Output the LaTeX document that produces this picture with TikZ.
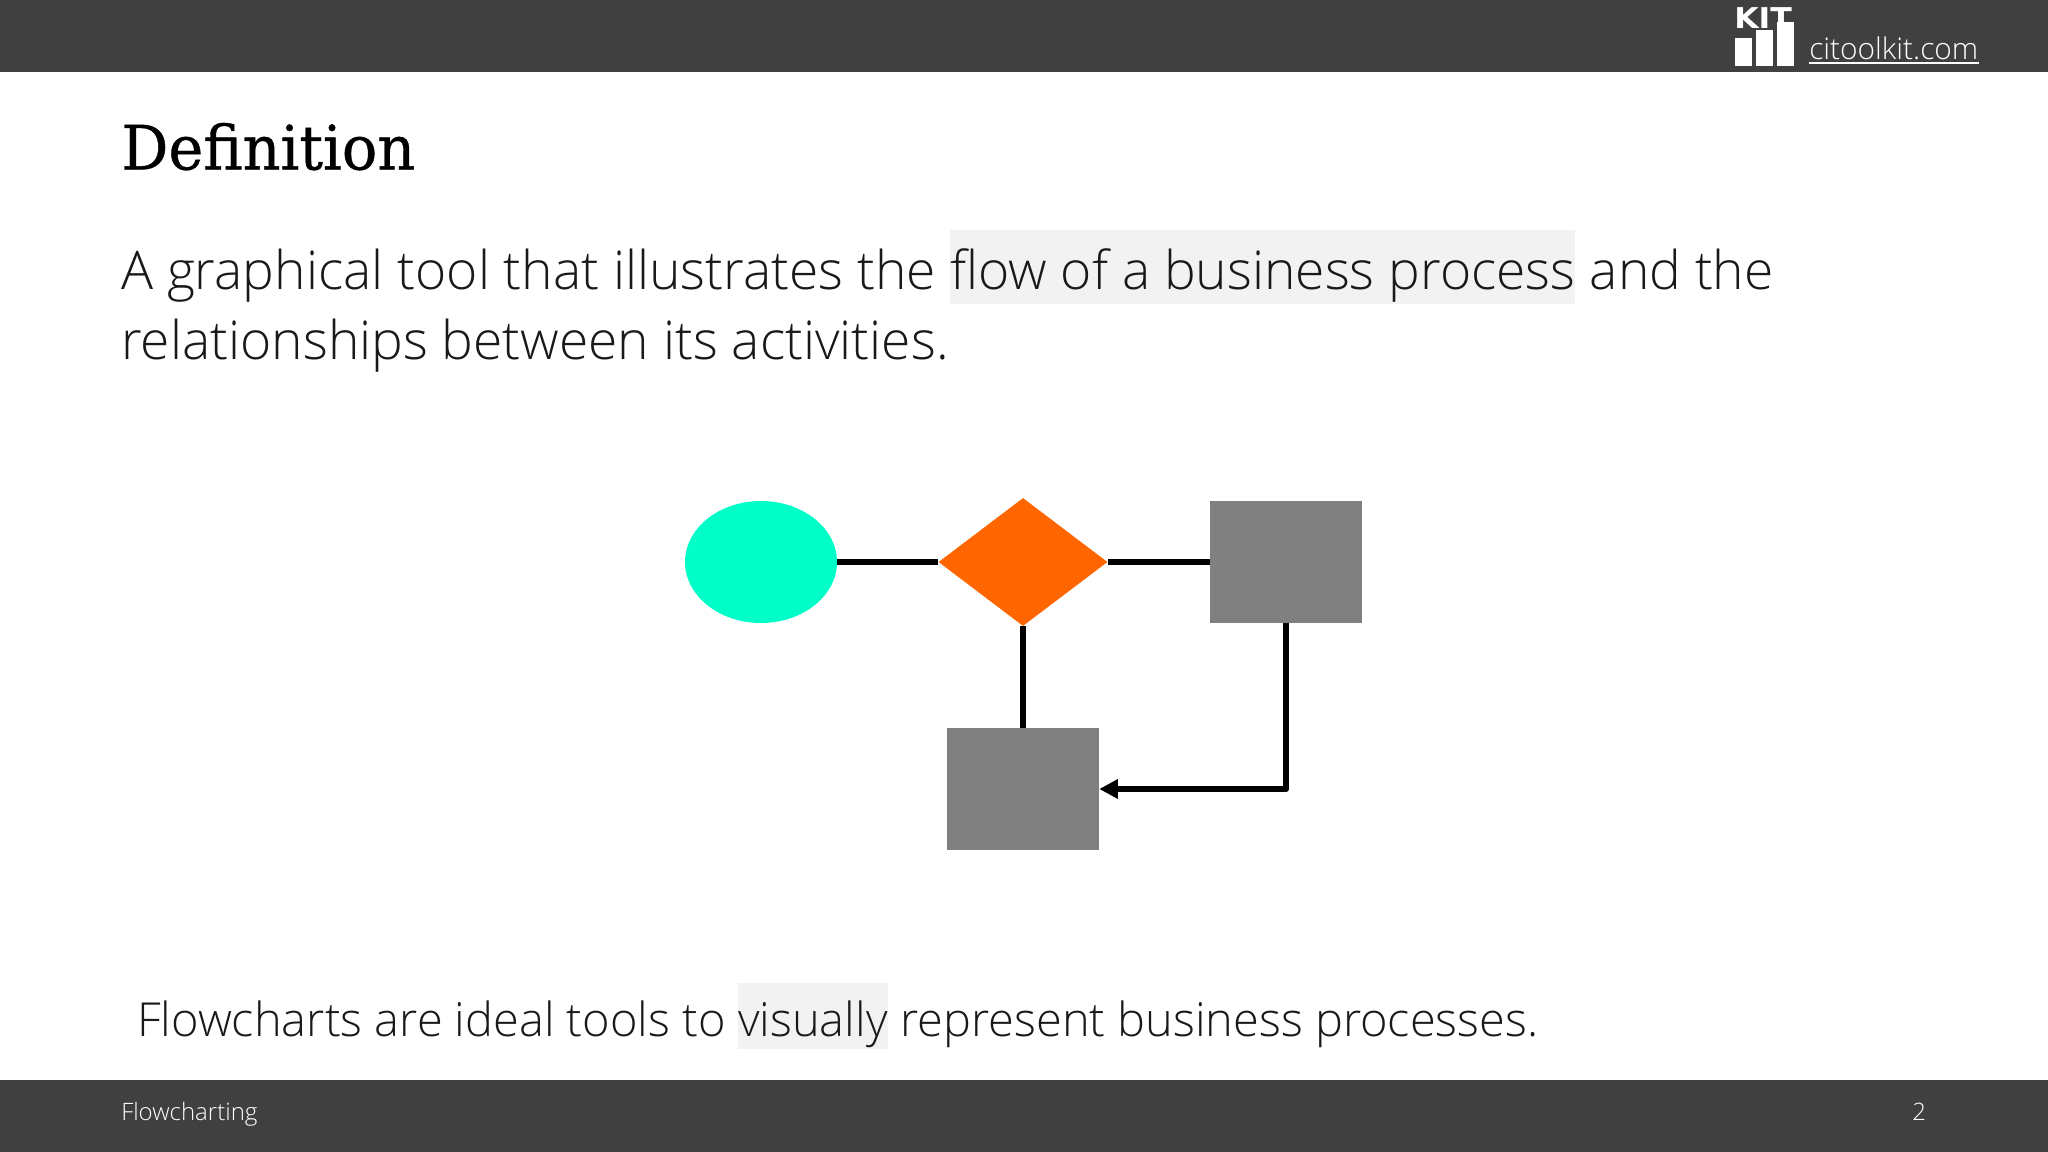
\documentclass[tikz,border=0pt]{standalone}
\usepackage{fontspec}
\setmainfont{Open Sans}[UprightFont={* Light}]
\newfontfamily\titlefont{DejaVu Serif}[FakeStretch=0.96,FakeBold=0.6]
\newfontfamily\logofont{DejaVu Sans}[UprightFont={* Bold},FakeStretch=1.1]
\usetikzlibrary{arrows.meta,shapes.geometric}
\definecolor{barcolor}{HTML}{404040}
\definecolor{markcolor}{HTML}{F2F2F2}
\definecolor{startcolor}{HTML}{00FFC8}
\definecolor{decidecolor}{HTML}{FF6600}
\definecolor{taskcolor}{HTML}{808080}

\begin{document}
\begin{tikzpicture}[x=0.75pt,y=-0.75pt,
    bodytext/.style={anchor=base west,inner sep=0pt,font=\fontsize{40}{48}\selectfont,text=black!90},
    lowtext/.style={bodytext,font=\fontsize{35.2}{42}\selectfont},
    marked/.style={fill=markcolor},
    footer/.style={inner sep=0pt,anchor=base west,font=\fontsize{18}{22}\selectfont,text=white},
    logobar/.style={fill=white},
    startnode/.style={ellipse,fill=startcolor,inner sep=0pt,minimum width=114pt,minimum height=91.5pt},
    decidenode/.style={diamond,fill=decidecolor,inner sep=0pt,minimum width=126.75pt,minimum height=96pt},
    tasknode/.style={rectangle,fill=taskcolor,inner sep=0pt,minimum width=114pt,minimum height=91.5pt},
    link/.style={line width=4.8pt,black}]
\useasboundingbox (0,0) rectangle (2048,1152);
\fill[white] (0,0) rectangle (2048,1152);
\fill[barcolor] (0,0) rectangle (2048,72);
\fill[barcolor] (0,1080) rectangle (2048,1152);

% logo
\node[anchor=base west,inner sep=0pt,text=white,font=\logofont\fontsize{21.5}{23}\selectfont] (kit) at (1734,29) {KIT};
\fill[logobar] (1735,38) rectangle (1752,66);
\fill[logobar] (1756,30) rectangle (1773,66);
\fill[logobar] (1777,22) rectangle (1794,66);
\node[anchor=base west,inner sep=0pt,text=white,font=\fontsize{22.4}{28}\selectfont] (site) at (1809,60) {citoolkit.com};
\draw[white,line width=1pt] ([yshift=-2.25pt]site.base west) -- ([yshift=-2.25pt]site.base east);

% text
\node[anchor=base west,inner sep=0pt,font=\titlefont\fontsize{46}{54}\selectfont] (title) at (121,169.5) {Definition};
\node[bodytext] (lineA) at (121,289.5) {A graphical tool that illustrates the};
\node[bodytext,marked,text height=45pt,text depth=10.5pt] (flow) at (950,289.5) {flow of a business process};
\node[bodytext] (lineB) at (1589.5,289.5) {and the};
\node[bodytext] (lineC) at (121,359.5) {relationships between its activities.};
\node[lowtext] (lineD) at (137,1036.5) {Flowcharts are ideal tools to};
\node[lowtext,marked,text height=40pt,text depth=9.4pt] (visually) at (738,1036.5) {visually};
\node[lowtext] (lineE) at (900,1036.5) {represent business processes.};
\node[footer] (topic) at (121,1120) {Flowcharting};
\node[footer] (pagenum) at (1912,1120) {2};

% flowchart
\node[startnode] (start) at (761,562) {};
\node[decidenode] (decide) at (1023,562) {};
\node[tasknode] (taskA) at (1286,562) {};
\node[tasknode] (taskB) at (1023,789) {};
\draw[link] (start) -- (decide);
\draw[link] (decide) -- (taskA);
\draw[link] (decide) -- (taskB);
\draw[link,-{Triangle[length=14pt,width=14pt]},line join=round] (taskA) |- (taskB);
\end{tikzpicture}
\end{document}
